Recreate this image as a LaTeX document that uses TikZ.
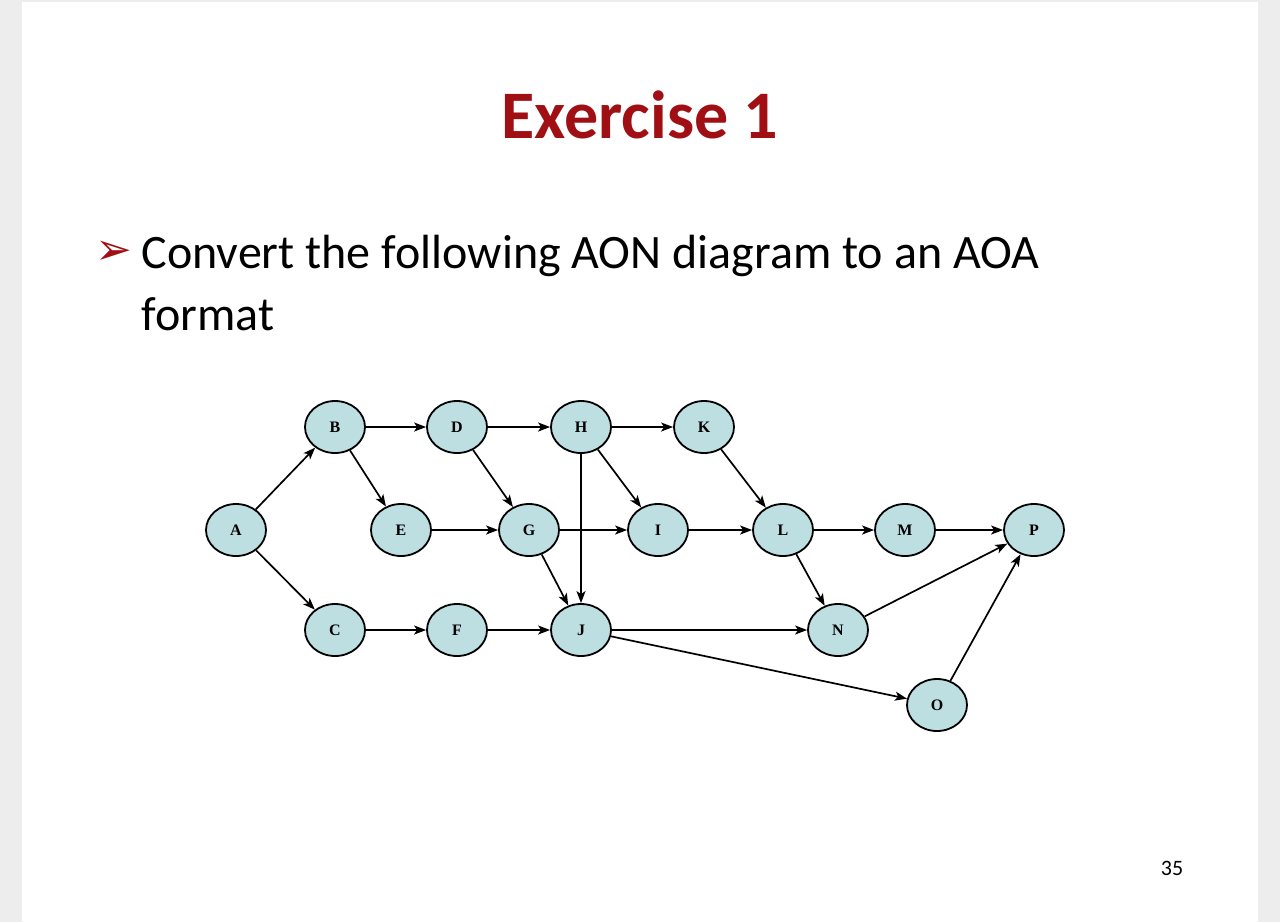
\documentclass[tikz,border=0pt]{standalone}
\usepackage{fontspec}
\setmainfont{Carlito}
\newfontfamily\symfont{DejaVu Sans}
\newfontfamily\nodefont{Liberation Serif}
\usetikzlibrary{arrows.meta,shapes.geometric}
\definecolor{dred}{HTML}{A00F14}
\definecolor{nfill}{HTML}{BEDFE2}
\begin{document}
\begin{tikzpicture}[x=1pt,y=-1pt,
  nd/.style={ellipse,draw=black,line width=1.8pt,fill=nfill,minimum width=60pt,minimum height=52pt,inner sep=0pt,font=\nodefont\bfseries\fontsize{16}{16}\selectfont},
  ar/.style={line width=1.7pt,-{Stealth[length=12pt,width=9pt,inset=3pt]}}]
\useasboundingbox (0,0) rectangle (1280,922);
\fill[black!7] (0,0) rectangle (1280,922);
\fill[white] (22,2) rectangle (1258,922);
\node[text=dred,font=\bfseries\fontsize{68}{68}\selectfont] (title) at (640,115) {Exercise 1};
\node[text=dred,font=\symfont\bfseries\fontsize{44}{44}\selectfont] (bul) at (114,253) {➢};
\node[anchor=west,align=left,font=\fontsize{48}{62}\selectfont] (txt) at (138,283) {Convert the following AON diagram to an AOA\\format};
\node[font=\fontsize{22}{22}\selectfont] (pg) at (1172,868) {35};
\node[nd] (A) at (236,530) {A};
\node[nd] (B) at (335,427) {B};
\node[nd] (D) at (457,427) {D};
\node[nd] (H) at (581,427) {H};
\node[nd] (K) at (704,427) {K};
\node[nd] (E) at (401,530) {E};
\node[nd] (G) at (529,530) {G};
\node[nd] (I) at (658,530) {I};
\node[nd] (L) at (783,530) {L};
\node[nd] (M) at (905,530) {M};
\node[nd] (P) at (1034,530) {P};
\node[nd] (C) at (335,630) {C};
\node[nd] (F) at (457,630) {F};
\node[nd] (J) at (581,630) {J};
\node[nd] (N) at (838,630) {N};
\node[nd] (O) at (937,705) {O};
\foreach \a/\b in {A/B,A/C,B/D,B/E,D/H,D/G,H/K,H/I,H/J,K/L,E/G,G/I,G/J,I/L,L/M,L/N,M/P,C/F,F/J,J/N,J/O,N/P,O/P}
  \draw[ar] (\a) -- (\b);
\end{tikzpicture}
\end{document}
